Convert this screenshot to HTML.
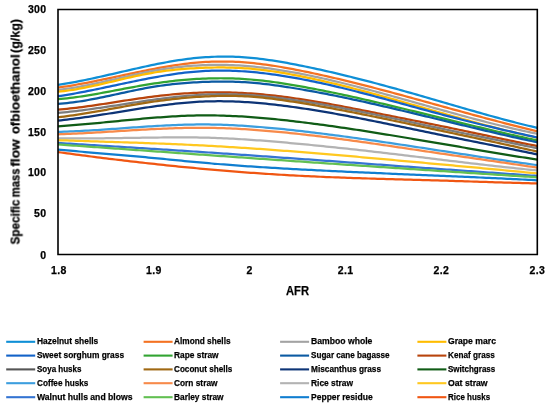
<!DOCTYPE html>
<html><head><meta charset="utf-8"><style>
html,body{margin:0;padding:0;background:#fff;}
body>*{filter:blur(0.3px);}
body{width:550px;height:406px;position:relative;overflow:hidden;font-family:"Liberation Sans", sans-serif;font-weight:bold;color:#000;-webkit-text-stroke:0.25px #000;}
.yt{position:absolute;right:503.7px;font-size:10.5px;line-height:12px;height:12px;text-align:right;letter-spacing:0.3px;}
.xt{position:absolute;top:264.0px;width:40px;text-align:center;font-size:10.5px;line-height:12px;letter-spacing:0.4px;}
.lg{position:absolute;font-size:9.8px;line-height:12px;white-space:nowrap;transform:scaleX(0.87);transform-origin:0 0;}
.ttl{position:absolute;font-size:12.5px;white-space:nowrap;}
</style></head><body>
<svg width="550" height="406" viewBox="0 0 550 406" style="position:absolute;left:0;top:0"><polyline fill="none" stroke="#0f8fd6" stroke-width="2.25" stroke-linejoin="round" points="58.00,84.88 61.01,84.42 64.03,83.94 67.04,83.44 70.06,82.91 73.07,82.37 76.09,81.80 79.10,81.22 82.12,80.63 85.13,80.01 88.14,79.39 91.16,78.75 94.17,78.10 97.19,77.44 100.20,76.77 103.22,76.09 106.23,75.41 109.25,74.72 112.26,74.03 115.27,73.33 118.29,72.63 121.30,71.93 124.32,71.24 127.33,70.54 130.35,69.85 133.36,69.16 136.38,68.48 139.39,67.81 142.41,67.14 145.42,66.48 148.43,65.84 151.45,65.20 154.46,64.58 157.48,63.97 160.49,63.38 163.51,62.81 166.52,62.25 169.54,61.71 172.55,61.19 175.56,60.70 178.58,60.22 181.59,59.77 184.61,59.35 187.62,58.95 190.64,58.58 193.65,58.24 196.67,57.93 199.68,57.65 202.69,57.41 205.71,57.19 208.72,57.01 211.74,56.87 214.75,56.75 217.77,56.67 220.78,56.62 223.80,56.60 226.81,56.62 229.82,56.66 232.84,56.74 235.85,56.85 238.87,56.99 241.88,57.16 244.90,57.37 247.91,57.60 250.93,57.86 253.94,58.15 256.95,58.48 259.97,58.82 262.98,59.20 266.00,59.60 269.01,60.02 272.03,60.47 275.04,60.93 278.06,61.42 281.07,61.92 284.08,62.45 287.10,62.98 290.11,63.54 293.13,64.10 296.14,64.68 299.16,65.28 302.17,65.88 305.19,66.49 308.20,67.11 311.22,67.74 314.23,68.39 317.24,69.04 320.26,69.70 323.27,70.37 326.29,71.05 329.30,71.74 332.32,72.43 335.33,73.14 338.35,73.85 341.36,74.57 344.37,75.30 347.39,76.04 350.40,76.78 353.42,77.54 356.43,78.29 359.45,79.06 362.46,79.83 365.48,80.61 368.49,81.40 371.50,82.19 374.52,82.98 377.53,83.78 380.55,84.59 383.56,85.41 386.58,86.22 389.59,87.05 392.61,87.87 395.62,88.70 398.63,89.54 401.65,90.38 404.66,91.23 407.68,92.07 410.69,92.92 413.71,93.78 416.72,94.64 419.74,95.50 422.75,96.36 425.76,97.22 428.78,98.09 431.79,98.96 434.81,99.83 437.82,100.71 440.84,101.58 443.85,102.46 446.87,103.33 449.88,104.21 452.89,105.09 455.91,105.97 458.92,106.84 461.94,107.72 464.95,108.59 467.97,109.46 470.98,110.33 474.00,111.19 477.01,112.05 480.03,112.91 483.04,113.76 486.05,114.61 489.07,115.46 492.08,116.29 495.10,117.12 498.11,117.95 501.13,118.77 504.14,119.58 507.16,120.38 510.17,121.17 513.18,121.96 516.20,122.73 519.21,123.50 522.23,124.26 525.24,125.00 528.26,125.74 531.27,126.46 534.29,127.17 537.30,127.87"/><polyline fill="none" stroke="#f47222" stroke-width="2.25" stroke-linejoin="round" points="58.00,87.59 61.01,87.17 64.03,86.73 67.04,86.27 70.06,85.78 73.07,85.28 76.09,84.76 79.10,84.23 82.12,83.68 85.13,83.11 88.14,82.53 91.16,81.94 94.17,81.34 97.19,80.72 100.20,80.10 103.22,79.47 106.23,78.84 109.25,78.20 112.26,77.55 115.27,76.91 118.29,76.26 121.30,75.61 124.32,74.96 127.33,74.32 130.35,73.67 133.36,73.03 136.38,72.40 139.39,71.77 142.41,71.15 145.42,70.54 148.43,69.94 151.45,69.35 154.46,68.78 157.48,68.21 160.49,67.66 163.51,67.13 166.52,66.61 169.54,66.12 172.55,65.64 175.56,65.18 178.58,64.75 181.59,64.33 184.61,63.94 187.62,63.58 190.64,63.24 193.65,62.93 196.67,62.65 199.68,62.40 202.69,62.18 205.71,61.99 208.72,61.83 211.74,61.71 214.75,61.61 217.77,61.55 220.78,61.52 223.80,61.52 226.81,61.55 229.82,61.61 232.84,61.70 235.85,61.83 238.87,61.98 241.88,62.16 244.90,62.37 247.91,62.62 250.93,62.89 253.94,63.19 256.95,63.52 259.97,63.87 262.98,64.26 266.00,64.66 269.01,65.09 272.03,65.54 275.04,66.01 278.06,66.50 281.07,67.01 284.08,67.54 287.10,68.08 290.11,68.64 293.13,69.21 296.14,69.79 299.16,70.38 302.17,70.99 305.19,71.60 308.20,72.22 311.22,72.86 314.23,73.50 317.24,74.15 320.26,74.81 323.27,75.48 326.29,76.16 329.30,76.84 332.32,77.54 335.33,78.24 338.35,78.95 341.36,79.67 344.37,80.39 347.39,81.12 350.40,81.86 353.42,82.60 356.43,83.35 359.45,84.11 362.46,84.87 365.48,85.64 368.49,86.41 371.50,87.19 374.52,87.97 377.53,88.76 380.55,89.55 383.56,90.34 386.58,91.14 389.59,91.95 392.61,92.75 395.62,93.57 398.63,94.38 401.65,95.20 404.66,96.01 407.68,96.84 410.69,97.66 413.71,98.49 416.72,99.31 419.74,100.14 422.75,100.97 425.76,101.80 428.78,102.64 431.79,103.47 434.81,104.30 437.82,105.13 440.84,105.97 443.85,106.80 446.87,107.63 449.88,108.47 452.89,109.30 455.91,110.13 458.92,110.95 461.94,111.78 464.95,112.61 467.97,113.43 470.98,114.25 474.00,115.07 477.01,115.88 480.03,116.69 483.04,117.50 486.05,118.31 489.07,119.11 492.08,119.91 495.10,120.70 498.11,121.49 501.13,122.28 504.14,123.06 507.16,123.83 510.17,124.60 513.18,125.37 516.20,126.13 519.21,126.88 522.23,127.63 525.24,128.37 528.26,129.10 531.27,129.83 534.29,130.55 537.30,131.26"/><polyline fill="none" stroke="#a3a3a3" stroke-width="2.25" stroke-linejoin="round" points="58.00,89.88 61.01,89.54 64.03,89.16 67.04,88.74 70.06,88.30 73.07,87.82 76.09,87.31 79.10,86.78 82.12,86.23 85.13,85.65 88.14,85.05 91.16,84.44 94.17,83.80 97.19,83.15 100.20,82.49 103.22,81.82 106.23,81.14 109.25,80.46 112.26,79.77 115.27,79.07 118.29,78.38 121.30,77.68 124.32,76.99 127.33,76.31 130.35,75.63 133.36,74.96 136.38,74.30 139.39,73.65 142.41,73.02 145.42,72.40 148.43,71.80 151.45,71.23 154.46,70.67 157.48,70.14 160.49,69.63 163.51,69.15 166.52,68.69 169.54,68.26 172.55,67.85 175.56,67.47 178.58,67.11 181.59,66.78 184.61,66.48 187.62,66.20 190.64,65.94 193.65,65.71 196.67,65.51 199.68,65.34 202.69,65.19 205.71,65.07 208.72,64.98 211.74,64.91 214.75,64.87 217.77,64.86 220.78,64.87 223.80,64.91 226.81,64.97 229.82,65.06 232.84,65.18 235.85,65.32 238.87,65.48 241.88,65.68 244.90,65.89 247.91,66.13 250.93,66.40 253.94,66.69 256.95,67.00 259.97,67.34 262.98,67.70 266.00,68.08 269.01,68.48 272.03,68.90 275.04,69.34 278.06,69.80 281.07,70.27 284.08,70.77 287.10,71.28 290.11,71.81 293.13,72.35 296.14,72.91 299.16,73.48 302.17,74.06 305.19,74.66 308.20,75.27 311.22,75.90 314.23,76.53 317.24,77.18 320.26,77.84 323.27,78.51 326.29,79.19 329.30,79.88 332.32,80.58 335.33,81.29 338.35,82.01 341.36,82.74 344.37,83.48 347.39,84.23 350.40,84.99 353.42,85.75 356.43,86.52 359.45,87.30 362.46,88.08 365.48,88.87 368.49,89.67 371.50,90.47 374.52,91.28 377.53,92.09 380.55,92.91 383.56,93.73 386.58,94.56 389.59,95.39 392.61,96.23 395.62,97.06 398.63,97.90 401.65,98.75 404.66,99.59 407.68,100.44 410.69,101.28 413.71,102.13 416.72,102.98 419.74,103.83 422.75,104.68 425.76,105.53 428.78,106.38 431.79,107.23 434.81,108.08 437.82,108.92 440.84,109.77 443.85,110.61 446.87,111.45 449.88,112.28 452.89,113.12 455.91,113.95 458.92,114.77 461.94,115.59 464.95,116.41 467.97,117.22 470.98,118.03 474.00,118.83 477.01,119.62 480.03,120.41 483.04,121.19 486.05,121.97 489.07,122.73 492.08,123.49 495.10,124.25 498.11,124.99 501.13,125.73 504.14,126.45 507.16,127.17 510.17,127.88 513.18,128.57 516.20,129.26 519.21,129.94 522.23,130.60 525.24,131.26 528.26,131.90 531.27,132.53 534.29,133.15 537.30,133.76"/><polyline fill="none" stroke="#ffbc00" stroke-width="2.25" stroke-linejoin="round" points="58.00,91.75 61.01,91.44 64.03,91.08 67.04,90.68 70.06,90.24 73.07,89.77 76.09,89.27 79.10,88.73 82.12,88.17 85.13,87.58 88.14,86.97 91.16,86.34 94.17,85.69 97.19,85.03 100.20,84.35 103.22,83.66 106.23,82.96 109.25,82.25 112.26,81.54 115.27,80.83 118.29,80.12 121.30,79.41 124.32,78.71 127.33,78.01 130.35,77.33 133.36,76.66 136.38,76.00 139.39,75.36 142.41,74.74 145.42,74.14 148.43,73.57 151.45,73.02 154.46,72.50 157.48,72.01 160.49,71.56 163.51,71.13 166.52,70.73 169.54,70.35 172.55,70.01 175.56,69.69 178.58,69.39 181.59,69.12 184.61,68.87 187.62,68.64 190.64,68.44 193.65,68.26 196.67,68.09 199.68,67.95 202.69,67.82 205.71,67.71 208.72,67.63 211.74,67.56 214.75,67.50 217.77,67.48 220.78,67.47 223.80,67.48 226.81,67.52 229.82,67.58 232.84,67.67 235.85,67.78 238.87,67.92 241.88,68.08 244.90,68.27 247.91,68.49 250.93,68.74 253.94,69.02 256.95,69.33 259.97,69.66 262.98,70.02 266.00,70.40 269.01,70.81 272.03,71.24 275.04,71.69 278.06,72.16 281.07,72.65 284.08,73.17 287.10,73.69 290.11,74.24 293.13,74.80 296.14,75.38 299.16,75.97 302.17,76.57 305.19,77.18 308.20,77.81 311.22,78.45 314.23,79.10 317.24,79.76 320.26,80.44 323.27,81.12 326.29,81.81 329.30,82.52 332.32,83.23 335.33,83.96 338.35,84.69 341.36,85.43 344.37,86.18 347.39,86.94 350.40,87.70 353.42,88.48 356.43,89.26 359.45,90.05 362.46,90.84 365.48,91.64 368.49,92.45 371.50,93.26 374.52,94.08 377.53,94.91 380.55,95.73 383.56,96.57 386.58,97.40 389.59,98.24 392.61,99.09 395.62,99.94 398.63,100.79 401.65,101.64 404.66,102.49 407.68,103.35 410.69,104.21 413.71,105.07 416.72,105.93 419.74,106.79 422.75,107.66 425.76,108.52 428.78,109.38 431.79,110.24 434.81,111.11 437.82,111.97 440.84,112.82 443.85,113.68 446.87,114.54 449.88,115.39 452.89,116.24 455.91,117.09 458.92,117.93 461.94,118.77 464.95,119.61 467.97,120.44 470.98,121.26 474.00,122.09 477.01,122.90 480.03,123.72 483.04,124.52 486.05,125.32 489.07,126.11 492.08,126.90 495.10,127.68 498.11,128.45 501.13,129.22 504.14,129.97 507.16,130.72 510.17,131.46 513.18,132.19 516.20,132.92 519.21,133.63 522.23,134.33 525.24,135.02 528.26,135.70 531.27,136.38 534.29,137.04 537.30,137.68"/><polyline fill="none" stroke="#1262c8" stroke-width="2.25" stroke-linejoin="round" points="58.00,96.23 61.01,95.78 64.03,95.31 67.04,94.82 70.06,94.31 73.07,93.78 76.09,93.24 79.10,92.69 82.12,92.12 85.13,91.54 88.14,90.95 91.16,90.35 94.17,89.74 97.19,89.12 100.20,88.49 103.22,87.86 106.23,87.22 109.25,86.58 112.26,85.94 115.27,85.30 118.29,84.66 121.30,84.01 124.32,83.37 127.33,82.74 130.35,82.10 133.36,81.48 136.38,80.86 139.39,80.24 142.41,79.64 145.42,79.04 148.43,78.46 151.45,77.89 154.46,77.33 157.48,76.79 160.49,76.26 163.51,75.75 166.52,75.25 169.54,74.78 172.55,74.32 175.56,73.89 178.58,73.48 181.59,73.09 184.61,72.72 187.62,72.38 190.64,72.07 193.65,71.79 196.67,71.53 199.68,71.30 202.69,71.11 205.71,70.94 208.72,70.81 211.74,70.71 214.75,70.64 217.77,70.59 220.78,70.58 223.80,70.60 226.81,70.64 229.82,70.71 232.84,70.81 235.85,70.93 238.87,71.08 241.88,71.25 244.90,71.45 247.91,71.68 250.93,71.92 253.94,72.19 256.95,72.49 259.97,72.80 262.98,73.14 266.00,73.50 269.01,73.87 272.03,74.27 275.04,74.69 278.06,75.13 281.07,75.58 284.08,76.05 287.10,76.54 290.11,77.05 293.13,77.57 296.14,78.11 299.16,78.67 302.17,79.24 305.19,79.82 308.20,80.42 311.22,81.03 314.23,81.65 317.24,82.29 320.26,82.93 323.27,83.60 326.29,84.27 329.30,84.95 332.32,85.64 335.33,86.35 338.35,87.06 341.36,87.78 344.37,88.52 347.39,89.26 350.40,90.01 353.42,90.76 356.43,91.53 359.45,92.30 362.46,93.07 365.48,93.86 368.49,94.65 371.50,95.44 374.52,96.24 377.53,97.05 380.55,97.85 383.56,98.67 386.58,99.48 389.59,100.30 392.61,101.12 395.62,101.94 398.63,102.76 401.65,103.59 404.66,104.41 407.68,105.24 410.69,106.07 413.71,106.89 416.72,107.72 419.74,108.54 422.75,109.36 425.76,110.18 428.78,111.00 431.79,111.81 434.81,112.63 437.82,113.43 440.84,114.24 443.85,115.04 446.87,115.83 449.88,116.62 452.89,117.40 455.91,118.18 458.92,118.96 461.94,119.73 464.95,120.50 467.97,121.26 470.98,122.02 474.00,122.77 477.01,123.52 480.03,124.26 483.04,125.00 486.05,125.73 489.07,126.46 492.08,127.19 495.10,127.91 498.11,128.62 501.13,129.34 504.14,130.04 507.16,130.74 510.17,131.44 513.18,132.14 516.20,132.82 519.21,133.51 522.23,134.19 525.24,134.86 528.26,135.53 531.27,136.20 534.29,136.86 537.30,137.52"/><polyline fill="none" stroke="#32a432" stroke-width="2.25" stroke-linejoin="round" points="58.00,99.16 61.01,98.91 64.03,98.62 67.04,98.30 70.06,97.95 73.07,97.58 76.09,97.18 79.10,96.75 82.12,96.30 85.13,95.83 88.14,95.35 91.16,94.84 94.17,94.32 97.19,93.79 100.20,93.25 103.22,92.70 106.23,92.14 109.25,91.57 112.26,91.01 115.27,90.44 118.29,89.86 121.30,89.29 124.32,88.72 127.33,88.16 130.35,87.60 133.36,87.04 136.38,86.50 139.39,85.96 142.41,85.43 145.42,84.92 148.43,84.42 151.45,83.94 154.46,83.47 157.48,83.02 160.49,82.59 163.51,82.18 166.52,81.79 169.54,81.42 172.55,81.07 175.56,80.73 178.58,80.42 181.59,80.12 184.61,79.85 187.62,79.60 190.64,79.37 193.65,79.16 196.67,78.97 199.68,78.80 202.69,78.65 205.71,78.53 208.72,78.43 211.74,78.35 214.75,78.29 217.77,78.26 220.78,78.25 223.80,78.26 226.81,78.30 229.82,78.36 232.84,78.45 235.85,78.56 238.87,78.70 241.88,78.86 244.90,79.05 247.91,79.26 250.93,79.50 253.94,79.76 256.95,80.06 259.97,80.37 262.98,80.71 266.00,81.07 269.01,81.44 272.03,81.84 275.04,82.26 278.06,82.70 281.07,83.15 284.08,83.61 287.10,84.09 290.11,84.59 293.13,85.09 296.14,85.61 299.16,86.14 302.17,86.68 305.19,87.22 308.20,87.78 311.22,88.34 314.23,88.91 317.24,89.49 320.26,90.08 323.27,90.67 326.29,91.28 329.30,91.89 332.32,92.51 335.33,93.13 338.35,93.77 341.36,94.40 344.37,95.05 347.39,95.70 350.40,96.36 353.42,97.02 356.43,97.69 359.45,98.37 362.46,99.05 365.48,99.73 368.49,100.42 371.50,101.12 374.52,101.82 377.53,102.52 380.55,103.23 383.56,103.94 386.58,104.65 389.59,105.37 392.61,106.09 395.62,106.82 398.63,107.54 401.65,108.27 404.66,109.00 407.68,109.74 410.69,110.47 413.71,111.21 416.72,111.95 419.74,112.69 422.75,113.43 425.76,114.17 428.78,114.92 431.79,115.66 434.81,116.40 437.82,117.15 440.84,117.89 443.85,118.64 446.87,119.38 449.88,120.12 452.89,120.86 455.91,121.60 458.92,122.34 461.94,123.08 464.95,123.82 467.97,124.55 470.98,125.28 474.00,126.01 477.01,126.74 480.03,127.46 483.04,128.18 486.05,128.90 489.07,129.61 492.08,130.33 495.10,131.03 498.11,131.74 501.13,132.43 504.14,133.13 507.16,133.82 510.17,134.50 513.18,135.18 516.20,135.86 519.21,136.53 522.23,137.19 525.24,137.85 528.26,138.50 531.27,139.14 534.29,139.78 537.30,140.42"/><polyline fill="none" stroke="#0b5aa2" stroke-width="2.25" stroke-linejoin="round" points="58.00,103.86 61.01,103.65 64.03,103.39 67.04,103.09 70.06,102.74 73.07,102.37 76.09,101.95 79.10,101.51 82.12,101.04 85.13,100.53 88.14,100.01 91.16,99.45 94.17,98.88 97.19,98.29 100.20,97.69 103.22,97.07 106.23,96.43 109.25,95.79 112.26,95.14 115.27,94.49 118.29,93.84 121.30,93.18 124.32,92.53 127.33,91.89 130.35,91.25 133.36,90.61 136.38,90.00 139.39,89.39 142.41,88.80 145.42,88.23 148.43,87.69 151.45,87.16 154.46,86.66 157.48,86.19 160.49,85.74 163.51,85.32 166.52,84.93 169.54,84.56 172.55,84.22 175.56,83.90 178.58,83.60 181.59,83.33 184.61,83.07 187.62,82.84 190.64,82.63 193.65,82.44 196.67,82.27 199.68,82.11 202.69,81.98 205.71,81.86 208.72,81.77 211.74,81.69 214.75,81.63 217.77,81.59 220.78,81.57 223.80,81.57 226.81,81.60 229.82,81.64 232.84,81.71 235.85,81.81 238.87,81.92 241.88,82.07 244.90,82.23 247.91,82.43 250.93,82.65 253.94,82.89 256.95,83.17 259.97,83.46 262.98,83.78 266.00,84.12 269.01,84.48 272.03,84.86 275.04,85.26 278.06,85.68 281.07,86.11 284.08,86.56 287.10,87.02 290.11,87.50 293.13,87.99 296.14,88.49 299.16,89.00 302.17,89.51 305.19,90.04 308.20,90.58 311.22,91.12 314.23,91.68 317.24,92.24 320.26,92.81 323.27,93.39 326.29,93.97 329.30,94.56 332.32,95.16 335.33,95.77 338.35,96.39 341.36,97.01 344.37,97.63 347.39,98.27 350.40,98.91 353.42,99.55 356.43,100.20 359.45,100.86 362.46,101.52 365.48,102.19 368.49,102.86 371.50,103.54 374.52,104.22 377.53,104.90 380.55,105.59 383.56,106.29 386.58,106.99 389.59,107.69 392.61,108.39 395.62,109.10 398.63,109.81 401.65,110.52 404.66,111.24 407.68,111.95 410.69,112.67 413.71,113.40 416.72,114.12 419.74,114.85 422.75,115.57 425.76,116.30 428.78,117.03 431.79,117.76 434.81,118.49 437.82,119.22 440.84,119.95 443.85,120.68 446.87,121.41 449.88,122.14 452.89,122.87 455.91,123.60 458.92,124.33 461.94,125.05 464.95,125.78 467.97,126.50 470.98,127.23 474.00,127.95 477.01,128.66 480.03,129.38 483.04,130.09 486.05,130.80 489.07,131.51 492.08,132.21 495.10,132.91 498.11,133.61 501.13,134.30 504.14,134.99 507.16,135.68 510.17,136.36 513.18,137.03 516.20,137.70 519.21,138.37 522.23,139.03 525.24,139.69 528.26,140.34 531.27,140.98 534.29,141.62 537.30,142.25"/><polyline fill="none" stroke="#b8440c" stroke-width="2.25" stroke-linejoin="round" points="58.00,109.67 61.01,109.41 64.03,109.12 67.04,108.82 70.06,108.49 73.07,108.15 76.09,107.79 79.10,107.41 82.12,107.02 85.13,106.62 88.14,106.20 91.16,105.78 94.17,105.34 97.19,104.90 100.20,104.45 103.22,103.99 106.23,103.52 109.25,103.06 112.26,102.59 115.27,102.12 118.29,101.65 121.30,101.18 124.32,100.71 127.33,100.24 130.35,99.78 133.36,99.33 136.38,98.88 139.39,98.44 142.41,98.02 145.42,97.60 148.43,97.19 151.45,96.80 154.46,96.42 157.48,96.05 160.49,95.70 163.51,95.37 166.52,95.05 169.54,94.75 172.55,94.46 175.56,94.19 178.58,93.94 181.59,93.71 184.61,93.49 187.62,93.29 190.64,93.11 193.65,92.94 196.67,92.80 199.68,92.67 202.69,92.57 205.71,92.48 208.72,92.41 211.74,92.36 214.75,92.33 217.77,92.32 220.78,92.33 223.80,92.35 226.81,92.40 229.82,92.47 232.84,92.55 235.85,92.66 238.87,92.78 241.88,92.92 244.90,93.09 247.91,93.27 250.93,93.47 253.94,93.69 256.95,93.93 259.97,94.19 262.98,94.46 266.00,94.76 269.01,95.07 272.03,95.39 275.04,95.73 278.06,96.09 281.07,96.46 284.08,96.84 287.10,97.24 290.11,97.65 293.13,98.08 296.14,98.51 299.16,98.96 302.17,99.42 305.19,99.88 308.20,100.36 311.22,100.85 314.23,101.35 317.24,101.85 320.26,102.37 323.27,102.89 326.29,103.42 329.30,103.96 332.32,104.51 335.33,105.06 338.35,105.62 341.36,106.18 344.37,106.75 347.39,107.33 350.40,107.91 353.42,108.49 356.43,109.08 359.45,109.67 362.46,110.26 365.48,110.86 368.49,111.46 371.50,112.06 374.52,112.67 377.53,113.27 380.55,113.88 383.56,114.48 386.58,115.09 389.59,115.69 392.61,116.30 395.62,116.90 398.63,117.50 401.65,118.10 404.66,118.71 407.68,119.31 410.69,119.91 413.71,120.51 416.72,121.11 419.74,121.71 422.75,122.32 425.76,122.92 428.78,123.53 431.79,124.14 434.81,124.75 437.82,125.36 440.84,125.98 443.85,126.60 446.87,127.22 449.88,127.85 452.89,128.48 455.91,129.11 458.92,129.74 461.94,130.37 464.95,131.01 467.97,131.64 470.98,132.28 474.00,132.92 477.01,133.56 480.03,134.20 483.04,134.84 486.05,135.47 489.07,136.11 492.08,136.75 495.10,137.39 498.11,138.02 501.13,138.66 504.14,139.29 507.16,139.92 510.17,140.55 513.18,141.17 516.20,141.80 519.21,142.42 522.23,143.03 525.24,143.65 528.26,144.26 531.27,144.86 534.29,145.47 537.30,146.06"/><polyline fill="none" stroke="#7c7c7c" stroke-width="2.25" stroke-linejoin="round" points="58.00,112.90 61.01,112.63 64.03,112.34 67.04,112.04 70.06,111.72 73.07,111.39 76.09,111.03 79.10,110.67 82.12,110.29 85.13,109.90 88.14,109.50 91.16,109.09 94.17,108.66 97.19,108.23 100.20,107.80 103.22,107.35 106.23,106.90 109.25,106.44 112.26,105.98 115.27,105.52 118.29,105.05 121.30,104.58 124.32,104.11 127.33,103.65 130.35,103.18 133.36,102.71 136.38,102.25 139.39,101.79 142.41,101.34 145.42,100.89 148.43,100.45 151.45,100.02 154.46,99.60 157.48,99.18 160.49,98.78 163.51,98.38 166.52,98.00 169.54,97.63 172.55,97.28 175.56,96.94 178.58,96.62 181.59,96.31 184.61,96.02 187.62,95.75 190.64,95.50 193.65,95.26 196.67,95.05 199.68,94.87 202.69,94.70 205.71,94.56 208.72,94.44 211.74,94.35 214.75,94.27 217.77,94.22 220.78,94.20 223.80,94.20 226.81,94.22 229.82,94.26 232.84,94.33 235.85,94.41 238.87,94.52 241.88,94.66 244.90,94.81 247.91,94.99 250.93,95.19 253.94,95.41 256.95,95.65 259.97,95.91 262.98,96.19 266.00,96.49 269.01,96.80 272.03,97.14 275.04,97.49 278.06,97.85 281.07,98.23 284.08,98.62 287.10,99.03 290.11,99.45 293.13,99.88 296.14,100.32 299.16,100.77 302.17,101.23 305.19,101.70 308.20,102.18 311.22,102.67 314.23,103.16 317.24,103.67 320.26,104.18 323.27,104.70 326.29,105.23 329.30,105.76 332.32,106.31 335.33,106.85 338.35,107.41 341.36,107.97 344.37,108.54 347.39,109.11 350.40,109.69 353.42,110.28 356.43,110.87 359.45,111.46 362.46,112.06 365.48,112.66 368.49,113.27 371.50,113.88 374.52,114.50 377.53,115.12 380.55,115.74 383.56,116.36 386.58,116.99 389.59,117.62 392.61,118.25 395.62,118.89 398.63,119.52 401.65,120.16 404.66,120.80 407.68,121.44 410.69,122.08 413.71,122.72 416.72,123.36 419.74,124.00 422.75,124.64 425.76,125.28 428.78,125.92 431.79,126.56 434.81,127.20 437.82,127.84 440.84,128.47 443.85,129.10 446.87,129.74 449.88,130.36 452.89,130.99 455.91,131.62 458.92,132.24 461.94,132.86 464.95,133.49 467.97,134.11 470.98,134.73 474.00,135.34 477.01,135.96 480.03,136.58 483.04,137.19 486.05,137.81 489.07,138.42 492.08,139.04 495.10,139.65 498.11,140.26 501.13,140.87 504.14,141.49 507.16,142.10 510.17,142.71 513.18,143.32 516.20,143.94 519.21,144.55 522.23,145.16 525.24,145.78 528.26,146.39 531.27,147.01 534.29,147.62 537.30,148.24"/><polyline fill="none" stroke="#a06812" stroke-width="2.25" stroke-linejoin="round" points="58.00,117.25 61.01,116.90 64.03,116.53 67.04,116.14 70.06,115.73 73.07,115.30 76.09,114.86 79.10,114.40 82.12,113.93 85.13,113.44 88.14,112.94 91.16,112.43 94.17,111.92 97.19,111.39 100.20,110.86 103.22,110.32 106.23,109.78 109.25,109.23 112.26,108.69 115.27,108.14 118.29,107.59 121.30,107.04 124.32,106.50 127.33,105.96 130.35,105.43 133.36,104.90 136.38,104.39 139.39,103.88 142.41,103.38 145.42,102.89 148.43,102.41 151.45,101.95 154.46,101.51 157.48,101.08 160.49,100.66 163.51,100.27 166.52,99.89 169.54,99.52 172.55,99.17 175.56,98.84 178.58,98.53 181.59,98.23 184.61,97.95 187.62,97.68 190.64,97.44 193.65,97.21 196.67,96.99 199.68,96.80 202.69,96.62 205.71,96.46 208.72,96.31 211.74,96.19 214.75,96.09 217.77,96.00 220.78,95.94 223.80,95.90 226.81,95.88 229.82,95.89 232.84,95.92 235.85,95.98 238.87,96.06 241.88,96.17 244.90,96.30 247.91,96.47 250.93,96.66 253.94,96.88 256.95,97.13 259.97,97.40 262.98,97.70 266.00,98.02 269.01,98.37 272.03,98.73 275.04,99.11 278.06,99.52 281.07,99.93 284.08,100.36 287.10,100.81 290.11,101.27 293.13,101.74 296.14,102.21 299.16,102.70 302.17,103.19 305.19,103.69 308.20,104.20 311.22,104.71 314.23,105.23 317.24,105.76 320.26,106.29 323.27,106.83 326.29,107.37 329.30,107.92 332.32,108.48 335.33,109.04 338.35,109.60 341.36,110.17 344.37,110.75 347.39,111.33 350.40,111.91 353.42,112.50 356.43,113.10 359.45,113.69 362.46,114.30 365.48,114.90 368.49,115.51 371.50,116.12 374.52,116.73 377.53,117.35 380.55,117.97 383.56,118.60 386.58,119.22 389.59,119.85 392.61,120.48 395.62,121.11 398.63,121.74 401.65,122.38 404.66,123.02 407.68,123.65 410.69,124.29 413.71,124.93 416.72,125.57 419.74,126.22 422.75,126.86 425.76,127.50 428.78,128.14 431.79,128.78 434.81,129.43 437.82,130.07 440.84,130.71 443.85,131.35 446.87,131.99 449.88,132.63 452.89,133.27 455.91,133.91 458.92,134.54 461.94,135.18 464.95,135.82 467.97,136.46 470.98,137.10 474.00,137.74 477.01,138.38 480.03,139.03 483.04,139.67 486.05,140.32 489.07,140.96 492.08,141.61 495.10,142.26 498.11,142.91 501.13,143.57 504.14,144.23 507.16,144.89 510.17,145.55 513.18,146.21 516.20,146.88 519.21,147.55 522.23,148.23 525.24,148.90 528.26,149.59 531.27,150.27 534.29,150.96 537.30,151.65"/><polyline fill="none" stroke="#0d3476" stroke-width="2.25" stroke-linejoin="round" points="58.00,120.57 61.01,120.26 64.03,119.94 67.04,119.60 70.06,119.24 73.07,118.86 76.09,118.47 79.10,118.07 82.12,117.66 85.13,117.23 88.14,116.79 91.16,116.34 94.17,115.89 97.19,115.42 100.20,114.95 103.22,114.48 106.23,113.99 109.25,113.51 112.26,113.02 115.27,112.53 118.29,112.04 121.30,111.54 124.32,111.05 127.33,110.56 130.35,110.07 133.36,109.59 136.38,109.11 139.39,108.63 142.41,108.17 145.42,107.71 148.43,107.25 151.45,106.81 154.46,106.38 157.48,105.95 160.49,105.54 163.51,105.14 166.52,104.76 169.54,104.39 172.55,104.04 175.56,103.70 178.58,103.38 181.59,103.08 184.61,102.80 187.62,102.54 190.64,102.30 193.65,102.09 196.67,101.89 199.68,101.73 202.69,101.58 205.71,101.46 208.72,101.37 211.74,101.30 214.75,101.26 217.77,101.24 220.78,101.24 223.80,101.27 226.81,101.32 229.82,101.39 232.84,101.48 235.85,101.59 238.87,101.72 241.88,101.87 244.90,102.05 247.91,102.24 250.93,102.44 253.94,102.67 256.95,102.91 259.97,103.17 262.98,103.45 266.00,103.74 269.01,104.05 272.03,104.37 275.04,104.71 278.06,105.06 281.07,105.42 284.08,105.80 287.10,106.19 290.11,106.59 293.13,107.00 296.14,107.42 299.16,107.86 302.17,108.30 305.19,108.75 308.20,109.22 311.22,109.69 314.23,110.17 317.24,110.66 320.26,111.15 323.27,111.66 326.29,112.17 329.30,112.69 332.32,113.22 335.33,113.76 338.35,114.30 341.36,114.85 344.37,115.40 347.39,115.96 350.40,116.53 353.42,117.10 356.43,117.68 359.45,118.26 362.46,118.85 365.48,119.44 368.49,120.04 371.50,120.64 374.52,121.24 377.53,121.85 380.55,122.46 383.56,123.07 386.58,123.68 389.59,124.30 392.61,124.92 395.62,125.54 398.63,126.17 401.65,126.79 404.66,127.42 407.68,128.04 410.69,128.67 413.71,129.30 416.72,129.92 419.74,130.55 422.75,131.18 425.76,131.80 428.78,132.43 431.79,133.05 434.81,133.67 437.82,134.29 440.84,134.91 443.85,135.53 446.87,136.14 449.88,136.75 452.89,137.36 455.91,137.97 458.92,138.57 461.94,139.18 464.95,139.78 467.97,140.38 470.98,140.99 474.00,141.59 477.01,142.19 480.03,142.79 483.04,143.39 486.05,143.99 489.07,144.59 492.08,145.20 495.10,145.80 498.11,146.40 501.13,147.01 504.14,147.62 507.16,148.22 510.17,148.83 513.18,149.44 516.20,150.06 519.21,150.68 522.23,151.29 525.24,151.92 528.26,152.54 531.27,153.17 534.29,153.80 537.30,154.43"/><polyline fill="none" stroke="#105c16" stroke-width="2.25" stroke-linejoin="round" points="58.00,126.31 61.01,126.11 64.03,125.90 67.04,125.69 70.06,125.46 73.07,125.22 76.09,124.98 79.10,124.73 82.12,124.47 85.13,124.20 88.14,123.93 91.16,123.65 94.17,123.37 97.19,123.08 100.20,122.79 103.22,122.50 106.23,122.21 109.25,121.91 112.26,121.62 115.27,121.32 118.29,121.02 121.30,120.73 124.32,120.43 127.33,120.14 130.35,119.85 133.36,119.57 136.38,119.29 139.39,119.01 142.41,118.74 145.42,118.47 148.43,118.21 151.45,117.96 154.46,117.72 157.48,117.49 160.49,117.26 163.51,117.04 166.52,116.84 169.54,116.64 172.55,116.46 175.56,116.29 178.58,116.13 181.59,115.99 184.61,115.86 187.62,115.74 190.64,115.64 193.65,115.56 196.67,115.49 199.68,115.44 202.69,115.40 205.71,115.39 208.72,115.39 211.74,115.41 214.75,115.45 217.77,115.50 220.78,115.58 223.80,115.66 226.81,115.76 229.82,115.88 232.84,116.01 235.85,116.16 238.87,116.32 241.88,116.49 244.90,116.68 247.91,116.88 250.93,117.09 253.94,117.32 256.95,117.55 259.97,117.80 262.98,118.06 266.00,118.33 269.01,118.61 272.03,118.90 275.04,119.20 278.06,119.50 281.07,119.82 284.08,120.14 287.10,120.48 290.11,120.82 293.13,121.16 296.14,121.52 299.16,121.88 302.17,122.25 305.19,122.62 308.20,123.00 311.22,123.38 314.23,123.77 317.24,124.17 320.26,124.57 323.27,124.98 326.29,125.39 329.30,125.81 332.32,126.23 335.33,126.65 338.35,127.09 341.36,127.52 344.37,127.96 347.39,128.41 350.40,128.86 353.42,129.31 356.43,129.76 359.45,130.23 362.46,130.69 365.48,131.16 368.49,131.63 371.50,132.10 374.52,132.58 377.53,133.06 380.55,133.54 383.56,134.03 386.58,134.52 389.59,135.01 392.61,135.51 395.62,136.00 398.63,136.50 401.65,137.00 404.66,137.50 407.68,138.01 410.69,138.51 413.71,139.02 416.72,139.53 419.74,140.04 422.75,140.55 425.76,141.06 428.78,141.58 431.79,142.09 434.81,142.60 437.82,143.12 440.84,143.64 443.85,144.15 446.87,144.67 449.88,145.18 452.89,145.70 455.91,146.21 458.92,146.73 461.94,147.25 464.95,147.76 467.97,148.27 470.98,148.79 474.00,149.30 477.01,149.81 480.03,150.32 483.04,150.83 486.05,151.33 489.07,151.84 492.08,152.34 495.10,152.84 498.11,153.34 501.13,153.84 504.14,154.34 507.16,154.83 510.17,155.32 513.18,155.81 516.20,156.29 519.21,156.77 522.23,157.25 525.24,157.73 528.26,158.20 531.27,158.67 534.29,159.14 537.30,159.60"/><polyline fill="none" stroke="#3c9ede" stroke-width="2.25" stroke-linejoin="round" points="58.00,131.88 61.01,131.80 64.03,131.70 67.04,131.60 70.06,131.48 73.07,131.35 76.09,131.21 79.10,131.07 82.12,130.91 85.13,130.74 88.14,130.57 91.16,130.39 94.17,130.21 97.19,130.01 100.20,129.82 103.22,129.62 106.23,129.41 109.25,129.20 112.26,128.99 115.27,128.78 118.29,128.56 121.30,128.35 124.32,128.13 127.33,127.92 130.35,127.70 133.36,127.49 136.38,127.28 139.39,127.07 142.41,126.87 145.42,126.67 148.43,126.47 151.45,126.28 154.46,126.10 157.48,125.92 160.49,125.75 163.51,125.58 166.52,125.43 169.54,125.28 172.55,125.15 175.56,125.02 178.58,124.91 181.59,124.81 184.61,124.71 187.62,124.64 190.64,124.57 193.65,124.52 196.67,124.48 199.68,124.46 202.69,124.45 205.71,124.46 208.72,124.49 211.74,124.53 214.75,124.59 217.77,124.66 220.78,124.74 223.80,124.84 226.81,124.96 229.82,125.08 232.84,125.22 235.85,125.37 238.87,125.54 241.88,125.71 244.90,125.90 247.91,126.10 250.93,126.31 253.94,126.53 256.95,126.76 259.97,127.00 262.98,127.25 266.00,127.51 269.01,127.78 272.03,128.06 275.04,128.34 278.06,128.63 281.07,128.93 284.08,129.24 287.10,129.55 290.11,129.88 293.13,130.20 296.14,130.53 299.16,130.87 302.17,131.22 305.19,131.56 308.20,131.92 311.22,132.27 314.23,132.64 317.24,133.01 320.26,133.38 323.27,133.75 326.29,134.13 329.30,134.52 332.32,134.91 335.33,135.30 338.35,135.70 341.36,136.10 344.37,136.50 347.39,136.91 350.40,137.32 353.42,137.74 356.43,138.16 359.45,138.58 362.46,139.00 365.48,139.43 368.49,139.86 371.50,140.29 374.52,140.73 377.53,141.17 380.55,141.61 383.56,142.05 386.58,142.50 389.59,142.94 392.61,143.39 395.62,143.84 398.63,144.30 401.65,144.75 404.66,145.21 407.68,145.66 410.69,146.12 413.71,146.58 416.72,147.04 419.74,147.50 422.75,147.97 425.76,148.43 428.78,148.90 431.79,149.36 434.81,149.83 437.82,150.29 440.84,150.76 443.85,151.22 446.87,151.69 449.88,152.16 452.89,152.62 455.91,153.09 458.92,153.55 461.94,154.02 464.95,154.48 467.97,154.95 470.98,155.41 474.00,155.87 477.01,156.33 480.03,156.79 483.04,157.25 486.05,157.71 489.07,158.16 492.08,158.62 495.10,159.07 498.11,159.52 501.13,159.97 504.14,160.42 507.16,160.86 510.17,161.30 513.18,161.74 516.20,162.18 519.21,162.62 522.23,163.05 525.24,163.48 528.26,163.91 531.27,164.33 534.29,164.75 537.30,165.17"/><polyline fill="none" stroke="#f78a4a" stroke-width="2.25" stroke-linejoin="round" points="58.00,134.26 61.01,134.17 64.03,134.06 67.04,133.95 70.06,133.83 73.07,133.70 76.09,133.57 79.10,133.43 82.12,133.28 85.13,133.12 88.14,132.96 91.16,132.79 94.17,132.62 97.19,132.45 100.20,132.27 103.22,132.09 106.23,131.91 109.25,131.72 112.26,131.54 115.27,131.35 118.29,131.16 121.30,130.98 124.32,130.79 127.33,130.60 130.35,130.42 133.36,130.24 136.38,130.06 139.39,129.88 142.41,129.71 145.42,129.54 148.43,129.38 151.45,129.22 154.46,129.06 157.48,128.92 160.49,128.78 163.51,128.64 166.52,128.52 169.54,128.40 172.55,128.29 175.56,128.19 178.58,128.10 181.59,128.02 184.61,127.95 187.62,127.90 190.64,127.85 193.65,127.82 196.67,127.80 199.68,127.79 202.69,127.79 205.71,127.81 208.72,127.85 211.74,127.89 214.75,127.96 217.77,128.03 220.78,128.11 223.80,128.21 226.81,128.32 229.82,128.45 232.84,128.58 235.85,128.73 238.87,128.89 241.88,129.05 244.90,129.23 247.91,129.42 250.93,129.62 253.94,129.83 256.95,130.05 259.97,130.28 262.98,130.52 266.00,130.76 269.01,131.02 272.03,131.28 275.04,131.56 278.06,131.84 281.07,132.12 284.08,132.42 287.10,132.72 290.11,133.03 293.13,133.35 296.14,133.67 299.16,134.00 302.17,134.33 305.19,134.68 308.20,135.02 311.22,135.37 314.23,135.73 317.24,136.09 320.26,136.46 323.27,136.83 326.29,137.21 329.30,137.59 332.32,137.98 335.33,138.37 338.35,138.76 341.36,139.16 344.37,139.56 347.39,139.97 350.40,140.38 353.42,140.79 356.43,141.21 359.45,141.62 362.46,142.05 365.48,142.47 368.49,142.90 371.50,143.33 374.52,143.76 377.53,144.19 380.55,144.63 383.56,145.07 386.58,145.51 389.59,145.95 392.61,146.39 395.62,146.84 398.63,147.28 401.65,147.73 404.66,148.17 407.68,148.62 410.69,149.07 413.71,149.51 416.72,149.96 419.74,150.41 422.75,150.86 425.76,151.31 428.78,151.75 431.79,152.20 434.81,152.65 437.82,153.09 440.84,153.53 443.85,153.98 446.87,154.42 449.88,154.86 452.89,155.30 455.91,155.74 458.92,156.17 461.94,156.61 464.95,157.05 467.97,157.48 470.98,157.92 474.00,158.36 477.01,158.79 480.03,159.23 483.04,159.66 486.05,160.10 489.07,160.53 492.08,160.97 495.10,161.41 498.11,161.85 501.13,162.29 504.14,162.73 507.16,163.17 510.17,163.61 513.18,164.05 516.20,164.50 519.21,164.94 522.23,165.39 525.24,165.84 528.26,166.29 531.27,166.74 534.29,167.20 537.30,167.65"/><polyline fill="none" stroke="#b3b3b3" stroke-width="2.25" stroke-linejoin="round" points="58.00,138.43 61.01,138.45 64.03,138.47 67.04,138.47 70.06,138.48 73.07,138.48 76.09,138.47 79.10,138.46 82.12,138.45 85.13,138.43 88.14,138.41 91.16,138.39 94.17,138.37 97.19,138.34 100.20,138.31 103.22,138.27 106.23,138.24 109.25,138.20 112.26,138.16 115.27,138.12 118.29,138.08 121.30,138.04 124.32,137.99 127.33,137.95 130.35,137.91 133.36,137.86 136.38,137.82 139.39,137.77 142.41,137.73 145.42,137.69 148.43,137.65 151.45,137.61 154.46,137.57 157.48,137.53 160.49,137.50 163.51,137.47 166.52,137.44 169.54,137.41 172.55,137.39 175.56,137.38 178.58,137.37 181.59,137.37 184.61,137.37 187.62,137.39 190.64,137.41 193.65,137.44 196.67,137.48 199.68,137.53 202.69,137.59 205.71,137.66 208.72,137.74 211.74,137.83 214.75,137.93 217.77,138.04 220.78,138.16 223.80,138.29 226.81,138.43 229.82,138.58 232.84,138.73 235.85,138.90 238.87,139.07 241.88,139.25 244.90,139.44 247.91,139.64 250.93,139.84 253.94,140.05 256.95,140.26 259.97,140.49 262.98,140.72 266.00,140.95 269.01,141.19 272.03,141.44 275.04,141.69 278.06,141.94 281.07,142.20 284.08,142.47 287.10,142.73 290.11,143.01 293.13,143.28 296.14,143.56 299.16,143.84 302.17,144.13 305.19,144.42 308.20,144.71 311.22,145.00 314.23,145.30 317.24,145.60 320.26,145.90 323.27,146.21 326.29,146.51 329.30,146.82 332.32,147.14 335.33,147.45 338.35,147.77 341.36,148.09 344.37,148.41 347.39,148.74 350.40,149.06 353.42,149.39 356.43,149.72 359.45,150.06 362.46,150.39 365.48,150.73 368.49,151.07 371.50,151.41 374.52,151.76 377.53,152.10 380.55,152.45 383.56,152.80 386.58,153.15 389.59,153.51 392.61,153.86 395.62,154.22 398.63,154.57 401.65,154.93 404.66,155.29 407.68,155.66 410.69,156.02 413.71,156.38 416.72,156.75 419.74,157.11 422.75,157.48 425.76,157.84 428.78,158.21 431.79,158.57 434.81,158.94 437.82,159.30 440.84,159.67 443.85,160.03 446.87,160.40 449.88,160.76 452.89,161.12 455.91,161.48 458.92,161.84 461.94,162.20 464.95,162.55 467.97,162.91 470.98,163.26 474.00,163.61 477.01,163.96 480.03,164.31 483.04,164.66 486.05,165.00 489.07,165.35 492.08,165.69 495.10,166.02 498.11,166.36 501.13,166.69 504.14,167.02 507.16,167.35 510.17,167.67 513.18,167.99 516.20,168.31 519.21,168.63 522.23,168.94 525.24,169.25 528.26,169.55 531.27,169.85 534.29,170.15 537.30,170.45"/><polyline fill="none" stroke="#ffc820" stroke-width="2.25" stroke-linejoin="round" points="58.00,140.18 61.01,140.29 64.03,140.39 67.04,140.49 70.06,140.60 73.07,140.70 76.09,140.80 79.10,140.90 82.12,141.00 85.13,141.09 88.14,141.19 91.16,141.29 94.17,141.38 97.19,141.48 100.20,141.57 103.22,141.67 106.23,141.76 109.25,141.86 112.26,141.96 115.27,142.05 118.29,142.15 121.30,142.25 124.32,142.34 127.33,142.44 130.35,142.54 133.36,142.64 136.38,142.74 139.39,142.85 142.41,142.95 145.42,143.06 148.43,143.16 151.45,143.27 154.46,143.38 157.48,143.50 160.49,143.61 163.51,143.73 166.52,143.85 169.54,143.97 172.55,144.09 175.56,144.22 178.58,144.34 181.59,144.48 184.61,144.61 187.62,144.75 190.64,144.89 193.65,145.03 196.67,145.18 199.68,145.32 202.69,145.48 205.71,145.63 208.72,145.79 211.74,145.96 214.75,146.12 217.77,146.30 220.78,146.47 223.80,146.64 226.81,146.82 229.82,147.01 232.84,147.19 235.85,147.38 238.87,147.57 241.88,147.77 244.90,147.97 247.91,148.17 250.93,148.37 253.94,148.57 256.95,148.78 259.97,148.99 262.98,149.20 266.00,149.42 269.01,149.64 272.03,149.86 275.04,150.08 278.06,150.30 281.07,150.53 284.08,150.76 287.10,150.99 290.11,151.22 293.13,151.46 296.14,151.69 299.16,151.93 302.17,152.17 305.19,152.41 308.20,152.65 311.22,152.90 314.23,153.15 317.24,153.39 320.26,153.64 323.27,153.89 326.29,154.15 329.30,154.40 332.32,154.65 335.33,154.91 338.35,155.17 341.36,155.43 344.37,155.69 347.39,155.95 350.40,156.21 353.42,156.47 356.43,156.74 359.45,157.00 362.46,157.27 365.48,157.54 368.49,157.80 371.50,158.07 374.52,158.34 377.53,158.61 380.55,158.88 383.56,159.15 386.58,159.43 389.59,159.70 392.61,159.97 395.62,160.25 398.63,160.52 401.65,160.79 404.66,161.07 407.68,161.35 410.69,161.62 413.71,161.90 416.72,162.17 419.74,162.45 422.75,162.73 425.76,163.00 428.78,163.28 431.79,163.56 434.81,163.83 437.82,164.11 440.84,164.38 443.85,164.66 446.87,164.94 449.88,165.21 452.89,165.49 455.91,165.77 458.92,166.04 461.94,166.32 464.95,166.60 467.97,166.87 470.98,167.15 474.00,167.43 477.01,167.71 480.03,167.99 483.04,168.27 486.05,168.55 489.07,168.83 492.08,169.11 495.10,169.39 498.11,169.68 501.13,169.96 504.14,170.25 507.16,170.53 510.17,170.82 513.18,171.11 516.20,171.40 519.21,171.70 522.23,171.99 525.24,172.29 528.26,172.58 531.27,172.88 534.29,173.18 537.30,173.48"/><polyline fill="none" stroke="#3474d2" stroke-width="2.25" stroke-linejoin="round" points="58.00,142.95 61.01,143.14 64.03,143.33 67.04,143.52 70.06,143.71 73.07,143.90 76.09,144.09 79.10,144.27 82.12,144.46 85.13,144.65 88.14,144.83 91.16,145.02 94.17,145.20 97.19,145.39 100.20,145.58 103.22,145.76 106.23,145.95 109.25,146.13 112.26,146.32 115.27,146.50 118.29,146.69 121.30,146.87 124.32,147.06 127.33,147.25 130.35,147.43 133.36,147.62 136.38,147.81 139.39,148.00 142.41,148.19 145.42,148.38 148.43,148.57 151.45,148.76 154.46,148.95 157.48,149.14 160.49,149.33 163.51,149.53 166.52,149.72 169.54,149.92 172.55,150.11 175.56,150.31 178.58,150.51 181.59,150.70 184.61,150.90 187.62,151.10 190.64,151.30 193.65,151.50 196.67,151.70 199.68,151.90 202.69,152.10 205.71,152.30 208.72,152.50 211.74,152.71 214.75,152.91 217.77,153.11 220.78,153.32 223.80,153.52 226.81,153.73 229.82,153.93 232.84,154.14 235.85,154.35 238.87,154.56 241.88,154.76 244.90,154.97 247.91,155.19 250.93,155.40 253.94,155.61 256.95,155.83 259.97,156.04 262.98,156.26 266.00,156.47 269.01,156.69 272.03,156.90 275.04,157.12 278.06,157.34 281.07,157.56 284.08,157.77 287.10,157.99 290.11,158.21 293.13,158.42 296.14,158.64 299.16,158.85 302.17,159.07 305.19,159.28 308.20,159.49 311.22,159.71 314.23,159.92 317.24,160.13 320.26,160.35 323.27,160.56 326.29,160.77 329.30,160.99 332.32,161.20 335.33,161.42 338.35,161.63 341.36,161.85 344.37,162.07 347.39,162.29 350.40,162.51 353.42,162.73 356.43,162.95 359.45,163.17 362.46,163.39 365.48,163.62 368.49,163.84 371.50,164.07 374.52,164.29 377.53,164.51 380.55,164.74 383.56,164.96 386.58,165.18 389.59,165.41 392.61,165.63 395.62,165.85 398.63,166.07 401.65,166.29 404.66,166.51 407.68,166.72 410.69,166.94 413.71,167.16 416.72,167.37 419.74,167.59 422.75,167.81 425.76,168.02 428.78,168.23 431.79,168.45 434.81,168.66 437.82,168.88 440.84,169.09 443.85,169.30 446.87,169.52 449.88,169.73 452.89,169.94 455.91,170.16 458.92,170.37 461.94,170.58 464.95,170.80 467.97,171.01 470.98,171.22 474.00,171.43 477.01,171.65 480.03,171.86 483.04,172.07 486.05,172.29 489.07,172.50 492.08,172.72 495.10,172.93 498.11,173.14 501.13,173.36 504.14,173.57 507.16,173.79 510.17,174.00 513.18,174.22 516.20,174.43 519.21,174.65 522.23,174.87 525.24,175.08 528.26,175.30 531.27,175.52 534.29,175.74 537.30,175.95"/><polyline fill="none" stroke="#62c052" stroke-width="2.25" stroke-linejoin="round" points="58.00,144.47 61.01,144.68 64.03,144.90 67.04,145.11 70.06,145.32 73.07,145.54 76.09,145.75 79.10,145.97 82.12,146.18 85.13,146.40 88.14,146.61 91.16,146.82 94.17,147.04 97.19,147.25 100.20,147.47 103.22,147.68 106.23,147.90 109.25,148.11 112.26,148.32 115.27,148.54 118.29,148.75 121.30,148.97 124.32,149.18 127.33,149.40 130.35,149.61 133.36,149.82 136.38,150.04 139.39,150.25 142.41,150.47 145.42,150.68 148.43,150.90 151.45,151.11 154.46,151.32 157.48,151.54 160.49,151.75 163.51,151.96 166.52,152.18 169.54,152.39 172.55,152.61 175.56,152.82 178.58,153.03 181.59,153.25 184.61,153.46 187.62,153.67 190.64,153.89 193.65,154.10 196.67,154.31 199.68,154.52 202.69,154.74 205.71,154.95 208.72,155.16 211.74,155.38 214.75,155.59 217.77,155.80 220.78,156.01 223.80,156.22 226.81,156.44 229.82,156.65 232.84,156.86 235.85,157.07 238.87,157.28 241.88,157.49 244.90,157.70 247.91,157.92 250.93,158.13 253.94,158.34 256.95,158.55 259.97,158.76 262.98,158.97 266.00,159.18 269.01,159.39 272.03,159.60 275.04,159.81 278.06,160.02 281.07,160.23 284.08,160.43 287.10,160.64 290.11,160.85 293.13,161.06 296.14,161.27 299.16,161.48 302.17,161.68 305.19,161.89 308.20,162.10 311.22,162.31 314.23,162.51 317.24,162.72 320.26,162.93 323.27,163.13 326.29,163.34 329.30,163.54 332.32,163.75 335.33,163.96 338.35,164.16 341.36,164.37 344.37,164.57 347.39,164.78 350.40,164.98 353.42,165.18 356.43,165.39 359.45,165.59 362.46,165.80 365.48,166.00 368.49,166.20 371.50,166.41 374.52,166.61 377.53,166.81 380.55,167.02 383.56,167.22 386.58,167.42 389.59,167.62 392.61,167.83 395.62,168.03 398.63,168.23 401.65,168.43 404.66,168.63 407.68,168.83 410.69,169.03 413.71,169.23 416.72,169.43 419.74,169.63 422.75,169.83 425.76,170.03 428.78,170.23 431.79,170.43 434.81,170.63 437.82,170.83 440.84,171.03 443.85,171.23 446.87,171.43 449.88,171.63 452.89,171.83 455.91,172.03 458.92,172.22 461.94,172.42 464.95,172.62 467.97,172.82 470.98,173.01 474.00,173.21 477.01,173.41 480.03,173.60 483.04,173.80 486.05,174.00 489.07,174.19 492.08,174.39 495.10,174.59 498.11,174.78 501.13,174.98 504.14,175.17 507.16,175.37 510.17,175.56 513.18,175.76 516.20,175.95 519.21,176.15 522.23,176.34 525.24,176.54 528.26,176.73 531.27,176.93 534.29,177.12 537.30,177.31"/><polyline fill="none" stroke="#107ed0" stroke-width="2.25" stroke-linejoin="round" points="58.00,149.67 61.01,149.93 64.03,150.20 67.04,150.46 70.06,150.72 73.07,150.98 76.09,151.24 79.10,151.50 82.12,151.75 85.13,152.01 88.14,152.26 91.16,152.52 94.17,152.77 97.19,153.03 100.20,153.28 103.22,153.54 106.23,153.80 109.25,154.05 112.26,154.31 115.27,154.57 118.29,154.83 121.30,155.09 124.32,155.35 127.33,155.61 130.35,155.88 133.36,156.15 136.38,156.42 139.39,156.69 142.41,156.96 145.42,157.24 148.43,157.52 151.45,157.80 154.46,158.08 157.48,158.37 160.49,158.66 163.51,158.96 166.52,159.25 169.54,159.55 172.55,159.84 175.56,160.14 178.58,160.43 181.59,160.73 184.61,161.02 187.62,161.31 190.64,161.60 193.65,161.88 196.67,162.16 199.68,162.44 202.69,162.71 205.71,162.98 208.72,163.24 211.74,163.50 214.75,163.76 217.77,164.00 220.78,164.25 223.80,164.49 226.81,164.72 229.82,164.95 232.84,165.18 235.85,165.40 238.87,165.62 241.88,165.84 244.90,166.05 247.91,166.26 250.93,166.46 253.94,166.67 256.95,166.86 259.97,167.06 262.98,167.25 266.00,167.44 269.01,167.63 272.03,167.81 275.04,167.99 278.06,168.17 281.07,168.35 284.08,168.52 287.10,168.69 290.11,168.86 293.13,169.03 296.14,169.19 299.16,169.35 302.17,169.52 305.19,169.68 308.20,169.83 311.22,169.99 314.23,170.15 317.24,170.30 320.26,170.45 323.27,170.60 326.29,170.75 329.30,170.90 332.32,171.04 335.33,171.19 338.35,171.33 341.36,171.48 344.37,171.62 347.39,171.76 350.40,171.90 353.42,172.03 356.43,172.17 359.45,172.31 362.46,172.44 365.48,172.58 368.49,172.71 371.50,172.84 374.52,172.98 377.53,173.11 380.55,173.24 383.56,173.37 386.58,173.50 389.59,173.63 392.61,173.76 395.62,173.89 398.63,174.02 401.65,174.14 404.66,174.27 407.68,174.40 410.69,174.53 413.71,174.65 416.72,174.78 419.74,174.91 422.75,175.03 425.76,175.16 428.78,175.29 431.79,175.41 434.81,175.54 437.82,175.67 440.84,175.80 443.85,175.92 446.87,176.05 449.88,176.18 452.89,176.31 455.91,176.44 458.92,176.57 461.94,176.70 464.95,176.83 467.97,176.97 470.98,177.10 474.00,177.23 477.01,177.37 480.03,177.50 483.04,177.64 486.05,177.77 489.07,177.91 492.08,178.05 495.10,178.19 498.11,178.33 501.13,178.47 504.14,178.62 507.16,178.76 510.17,178.91 513.18,179.05 516.20,179.20 519.21,179.35 522.23,179.50 525.24,179.65 528.26,179.81 531.27,179.96 534.29,180.12 537.30,180.28"/><polyline fill="none" stroke="#f05612" stroke-width="2.25" stroke-linejoin="round" points="58.00,152.10 61.01,152.51 64.03,152.92 67.04,153.33 70.06,153.73 73.07,154.14 76.09,154.54 79.10,154.93 82.12,155.33 85.13,155.72 88.14,156.11 91.16,156.50 94.17,156.88 97.19,157.26 100.20,157.64 103.22,158.02 106.23,158.39 109.25,158.77 112.26,159.13 115.27,159.50 118.29,159.86 121.30,160.22 124.32,160.58 127.33,160.94 130.35,161.29 133.36,161.64 136.38,161.98 139.39,162.32 142.41,162.66 145.42,163.00 148.43,163.34 151.45,163.67 154.46,163.99 157.48,164.32 160.49,164.64 163.51,164.96 166.52,165.27 169.54,165.59 172.55,165.90 175.56,166.20 178.58,166.51 181.59,166.80 184.61,167.10 187.62,167.39 190.64,167.68 193.65,167.97 196.67,168.25 199.68,168.53 202.69,168.81 205.71,169.08 208.72,169.35 211.74,169.62 214.75,169.88 217.77,170.14 220.78,170.40 223.80,170.65 226.81,170.90 229.82,171.14 232.84,171.39 235.85,171.62 238.87,171.86 241.88,172.09 244.90,172.32 247.91,172.54 250.93,172.76 253.94,172.98 256.95,173.19 259.97,173.40 262.98,173.60 266.00,173.80 269.01,174.00 272.03,174.19 275.04,174.38 278.06,174.57 281.07,174.75 284.08,174.93 287.10,175.10 290.11,175.27 293.13,175.43 296.14,175.60 299.16,175.75 302.17,175.91 305.19,176.06 308.20,176.20 311.22,176.35 314.23,176.48 317.24,176.62 320.26,176.75 323.27,176.88 326.29,177.01 329.30,177.13 332.32,177.25 335.33,177.37 338.35,177.48 341.36,177.59 344.37,177.70 347.39,177.81 350.40,177.91 353.42,178.02 356.43,178.12 359.45,178.21 362.46,178.31 365.48,178.41 368.49,178.50 371.50,178.59 374.52,178.68 377.53,178.77 380.55,178.86 383.56,178.95 386.58,179.04 389.59,179.12 392.61,179.21 395.62,179.29 398.63,179.37 401.65,179.46 404.66,179.54 407.68,179.62 410.69,179.71 413.71,179.79 416.72,179.87 419.74,179.96 422.75,180.04 425.76,180.13 428.78,180.21 431.79,180.30 434.81,180.39 437.82,180.47 440.84,180.56 443.85,180.65 446.87,180.74 449.88,180.84 452.89,180.93 455.91,181.02 458.92,181.12 461.94,181.21 464.95,181.31 467.97,181.40 470.98,181.50 474.00,181.60 477.01,181.69 480.03,181.79 483.04,181.89 486.05,181.98 489.07,182.08 492.08,182.17 495.10,182.26 498.11,182.36 501.13,182.45 504.14,182.54 507.16,182.63 510.17,182.72 513.18,182.81 516.20,182.89 519.21,182.98 522.23,183.06 525.24,183.14 528.26,183.22 531.27,183.30 534.29,183.38 537.30,183.45"/><path d="M58.0,9.5 H537.3 V254.5 H58.0 Z" fill="none" stroke="#000" stroke-width="1.6"/><line x1="6.2" y1="341.8" x2="35.2" y2="341.8" stroke="#0f8fd6" stroke-width="2.1"/><line x1="143.6" y1="341.8" x2="172.6" y2="341.8" stroke="#f47222" stroke-width="2.1"/><line x1="280.1" y1="341.8" x2="309.1" y2="341.8" stroke="#a3a3a3" stroke-width="2.1"/><line x1="417.4" y1="341.8" x2="446.4" y2="341.8" stroke="#ffbc00" stroke-width="2.1"/><line x1="6.2" y1="355.6" x2="35.2" y2="355.6" stroke="#1262c8" stroke-width="2.1"/><line x1="143.6" y1="355.6" x2="172.6" y2="355.6" stroke="#32a432" stroke-width="2.1"/><line x1="280.1" y1="355.6" x2="309.1" y2="355.6" stroke="#0b5aa2" stroke-width="2.1"/><line x1="417.4" y1="355.6" x2="446.4" y2="355.6" stroke="#b8440c" stroke-width="2.1"/><line x1="6.2" y1="369.4" x2="35.2" y2="369.4" stroke="#555555" stroke-width="2.1"/><line x1="143.6" y1="369.4" x2="172.6" y2="369.4" stroke="#a06812" stroke-width="2.1"/><line x1="280.1" y1="369.4" x2="309.1" y2="369.4" stroke="#0d3476" stroke-width="2.1"/><line x1="417.4" y1="369.4" x2="446.4" y2="369.4" stroke="#105c16" stroke-width="2.1"/><line x1="6.2" y1="383.2" x2="35.2" y2="383.2" stroke="#3c9ede" stroke-width="2.1"/><line x1="143.6" y1="383.2" x2="172.6" y2="383.2" stroke="#f78a4a" stroke-width="2.1"/><line x1="280.1" y1="383.2" x2="309.1" y2="383.2" stroke="#b3b3b3" stroke-width="2.1"/><line x1="417.4" y1="383.2" x2="446.4" y2="383.2" stroke="#ffc820" stroke-width="2.1"/><line x1="6.2" y1="397.2" x2="35.2" y2="397.2" stroke="#3474d2" stroke-width="2.1"/><line x1="143.6" y1="397.2" x2="172.6" y2="397.2" stroke="#62c052" stroke-width="2.1"/><line x1="280.1" y1="397.2" x2="309.1" y2="397.2" stroke="#107ed0" stroke-width="2.1"/><line x1="417.4" y1="397.2" x2="446.4" y2="397.2" stroke="#f05612" stroke-width="2.1"/></svg>
<div class="yt" style="top:248.60px">0</div><div class="yt" style="top:206.92px">50</div><div class="yt" style="top:166.43px">100</div><div class="yt" style="top:125.70px">150</div><div class="yt" style="top:84.97px">200</div><div class="yt" style="top:44.03px">250</div><div class="yt" style="top:2.80px">300</div><div class="xt" style="left:38.9px">1.8</div><div class="xt" style="left:133.9px">1.9</div><div class="xt" style="left:229.7px">2</div><div class="xt" style="left:325.6px">2.1</div><div class="xt" style="left:421.4px">2.2</div><div class="xt" style="left:517.3px">2.3</div>
<div class="ttl" style="left:286.3px;top:283.2px;font-size:13px;transform:scaleX(0.86);transform-origin:0 0;">AFR</div>
<div class="ttl" style="left:14.5px;top:222.0px;font-size:13px;transform:translate(-50%,-50%) rotate(-90deg) scaleX(0.9);">Specific</div><div class="ttl" style="left:14.5px;top:182.5px;font-size:13px;transform:translate(-50%,-50%) rotate(-90deg) scaleX(0.86);">mass</div><div class="ttl" style="left:14.5px;top:152.85px;font-size:13px;transform:translate(-50%,-50%) rotate(-90deg) scaleX(1.055);">flow</div><div class="ttl" style="left:14.5px;top:128.4px;font-size:13px;transform:translate(-50%,-50%) rotate(-90deg) scaleX(0.98);">of</div><div class="ttl" style="left:14.5px;top:87.6px;font-size:13px;transform:translate(-50%,-50%) rotate(-90deg) scaleX(1.026);">bioethanol</div><div class="ttl" style="left:14.5px;top:35.9px;font-size:13px;transform:translate(-50%,-50%) rotate(-90deg) scaleX(0.958);">(g/kg)</div>
<div class="lg" style="left:36.9px;top:334.8px;transform:scaleX(0.859)">Hazelnut shells</div><div class="lg" style="left:174.3px;top:334.8px;transform:scaleX(0.845)">Almond shells</div><div class="lg" style="left:310.8px;top:334.8px;transform:scaleX(0.881)">Bamboo whole</div><div class="lg" style="left:448.1px;top:334.8px;transform:scaleX(0.88)">Grape marc</div><div class="lg" style="left:36.9px;top:348.8px;transform:scaleX(0.855)">Sweet sorghum grass</div><div class="lg" style="left:174.3px;top:348.8px;transform:scaleX(0.853)">Rape straw</div><div class="lg" style="left:310.8px;top:348.8px;transform:scaleX(0.83)">Sugar cane bagasse</div><div class="lg" style="left:448.1px;top:348.8px;transform:scaleX(0.834)">Kenaf grass</div><div class="lg" style="left:36.9px;top:362.8px;transform:scaleX(0.815)">Soya husks</div><div class="lg" style="left:174.3px;top:362.8px;transform:scaleX(0.831)">Coconut shells</div><div class="lg" style="left:310.8px;top:362.8px;transform:scaleX(0.846)">Miscanthus grass</div><div class="lg" style="left:448.1px;top:362.8px;transform:scaleX(0.819)">Switchgrass</div><div class="lg" style="left:36.9px;top:376.8px;transform:scaleX(0.836)">Coffee husks</div><div class="lg" style="left:174.3px;top:376.8px;transform:scaleX(0.85)">Corn straw</div><div class="lg" style="left:310.8px;top:376.8px;transform:scaleX(0.857)">Rice straw</div><div class="lg" style="left:448.1px;top:376.8px;transform:scaleX(0.887)">Oat straw</div><div class="lg" style="left:36.9px;top:391.0px;transform:scaleX(0.88)">Walnut hulls and blows</div><div class="lg" style="left:174.3px;top:391.0px;transform:scaleX(0.851)">Barley straw</div><div class="lg" style="left:310.8px;top:391.0px;transform:scaleX(0.871)">Pepper residue</div><div class="lg" style="left:448.1px;top:391.0px;transform:scaleX(0.813)">Rice husks</div>
</body></html>
